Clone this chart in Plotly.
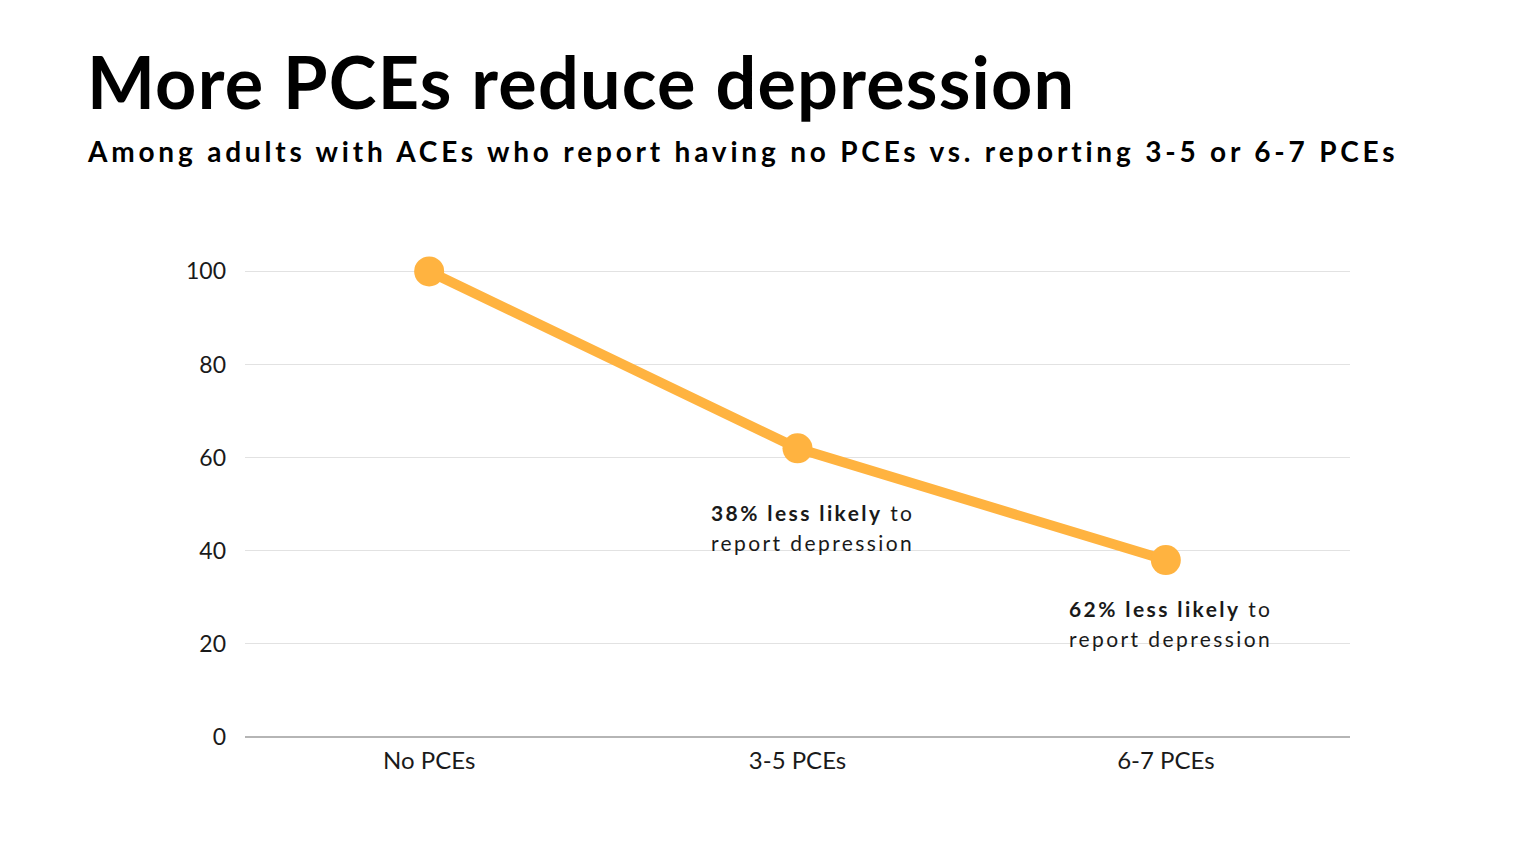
import plotly.graph_objects as go

categories = ["No PCEs", "3-5 PCEs", "6-7 PCEs"]
values = [100, 62, 38]
y_ticks = [0, 20, 40, 60, 80, 100]

title_text = "More PCEs reduce depression"
subtitle_text = "Among adults with ACEs who report having no PCEs vs. reporting 3-5 or 6-7 PCEs"
note_bold = ["38% less likely", "62% less likely"]
note_rest = ["to", "to"]
note_line2 = ["report depression", "report depression"]
note_idx = [1, 2]

FONT = "Lato"
ORANGE = "#FFB340"
TEXT = "#1a1a1a"

W, H = 1536, 864
L, R, T, B = 245, 186, 270, 127
PW, PH = W - L - R, H - T - B

fig = go.Figure()
fig.add_trace(go.Scatter(
    x=categories, y=values, mode="lines+markers",
    line=dict(color=ORANGE, width=10),
    marker=dict(color=ORANGE, size=30),
    cliponaxis=False, hoverinfo="skip", showlegend=False,
))

offsets = [(15, -64), (5, -48)]
for k, idx in enumerate(note_idx):
    dx, dy = offsets[k]
    fig.add_annotation(
        x=categories[idx], y=values[idx], xref="x", yref="y",
        text=f'<span style="letter-spacing:2.4px"><b>{note_bold[k]}</b> {note_rest[k]}</span>',
        showarrow=False, xshift=dx, yshift=dy, xanchor="center", yanchor="middle",
        font=dict(family=FONT, size=21, color=TEXT),
    )
    fig.add_annotation(
        x=categories[idx], y=values[idx], xref="x", yref="y",
        text=f'<span style="letter-spacing:2.4px">{note_line2[k]}</span>',
        showarrow=False, xshift=dx, yshift=dy - 30, xanchor="center", yanchor="middle",
        font=dict(family=FONT, size=21, color=TEXT),
    )

# title and subtitle
fig.add_annotation(
    x=(85 - L) / PW, y=1 + (T - 81) / PH, xref="paper", yref="paper",
    xanchor="left", yanchor="middle", showarrow=False,
    text=f'<b><span style="letter-spacing:1.2px">{title_text}</span></b>',
    font=dict(family=FONT, size=72, color="#000000"),
)
fig.add_annotation(
    x=(85 - L) / PW, y=1 + (T - 151) / PH, xref="paper", yref="paper",
    xanchor="left", yanchor="middle", showarrow=False,
    text=f'<b><span style="letter-spacing:3.8px">{subtitle_text}</span></b>',
    font=dict(family=FONT, size=28, color="#000000"),
)

fig.update_layout(
    width=W, height=H,
    margin=dict(l=L, r=R, t=T, b=B),
    paper_bgcolor="white", plot_bgcolor="white",
    font=dict(family=FONT, color=TEXT),
    xaxis=dict(range=[-0.5, 2.5], showgrid=False, zeroline=False, showline=False,
               ticks="", ticklabelstandoff=7,
               tickfont=dict(size=24, color=TEXT, family=FONT)),
    yaxis=dict(range=[0, 100.3], tickvals=y_ticks, showgrid=True, gridcolor="#e2e2e2",
               gridwidth=1, zeroline=True, zerolinecolor="#b5b5b5", zerolinewidth=1.5,
               showline=False, ticks="", ticklabelstandoff=18,
               tickfont=dict(size=23, color=TEXT, family=FONT)),
)

fig.write_html("out.html")
